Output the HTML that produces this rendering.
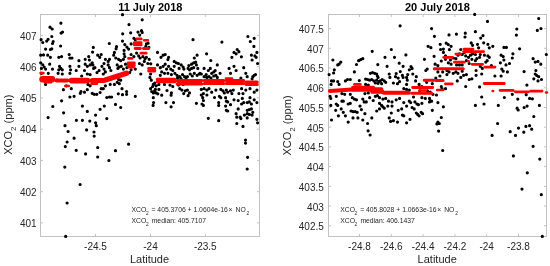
<!DOCTYPE html>
<html><head><meta charset="utf-8"><title>XCO2 vs Latitude</title><style>
html,body{margin:0;padding:0;background:#fff;}
svg{display:block;}
text{font-family:"Liberation Sans",Arial,sans-serif;fill:#262626;}
.tl{font-size:10px;}
.ti{font-size:11px;font-weight:bold;fill:#000;}
.xl{font-size:11px;}
.sub{font-size:8px;}
.an{font-size:6.8px;}
.asub{font-size:4.8px;}
</style></head>
<body><svg width="550" height="266" viewBox="0 0 550 266">
<rect width="550" height="266" fill="#fff"/>
<rect x="40.5" y="14.5" width="219" height="222" fill="none" stroke="#c2c2c2" stroke-width="1"/>
<rect x="328.5" y="14.5" width="218" height="222" fill="none" stroke="#c2c2c2" stroke-width="1"/>
<path d="M60.9 23.2h0M50.0 27.2h0M52.2 29.0h0M61.1 33.1h0M62.5 32.1h0M51.8 36.5h0M41.1 39.7h0M42.8 42.5h0M46.7 41.1h0M48.1 39.3h0M53.2 41.5h0M52.5 43.5h0M60.6 46.0h0M45.6 49.1h0M50.4 49.5h0M51.8 48.8h0M93.3 47.4h0M109.3 43.5h0M122.5 14.7h0M142.2 19.8h0M129.0 24.6h0M122.7 33.8h0M130.7 32.8h0M138.0 32.1h0M141.5 30.7h0M142.2 32.4h0M139.7 35.1h0M122.5 41.1h0M116.5 46.7h0M116.1 48.8h0M124.8 44.6h0M126.9 47.1h0M128.6 49.1h0M131.1 43.9h0M133.9 38.3h0M135.3 39.7h0M146.4 43.9h0M148.1 43.2h0M145.7 46.7h0M148.9 47.4h0M124.1 50.4h0M193.0 39.7h0M221.9 42.1h0M247.9 36.5h0M254.2 38.3h0M250.3 41.5h0M253.9 46.4h0M237.2 49.5h0M40.7 55.2h0M43.5 54.9h0M47.7 55.2h0M50.4 57.3h0M58.8 57.3h0M61.6 56.6h0M69.2 54.5h0M69.9 58.0h0M72.0 58.0h0M78.9 60.7h0M85.2 59.3h0M88.7 56.6h0M89.4 60.0h0M92.6 52.1h0M97.7 55.2h0M99.8 57.3h0M101.2 54.5h0M105.4 59.3h0M108.2 61.4h0M109.5 59.3h0M104.0 63.5h0M40.7 62.8h0M42.8 64.9h0M44.2 67.0h0M41.4 68.4h0M45.6 69.1h0M49.7 64.2h0M52.5 69.1h0M59.5 66.3h0M60.9 68.4h0M58.8 69.8h0M62.3 69.8h0M69.9 66.3h0M70.6 69.8h0M76.2 70.5h0M78.9 66.3h0M85.2 64.2h0M87.3 66.3h0M90.1 64.9h0M92.2 62.8h0M92.9 64.9h0M84.5 70.5h0M93.6 68.4h0M94.9 67.7h0M97.0 72.6h0M99.1 70.5h0M101.9 66.3h0M104.0 69.1h0M105.4 71.9h0M108.2 64.9h0M109.5 67.7h0M110.9 70.5h0M58.1 73.3h0M62.3 74.0h0M69.9 73.3h0M87.3 74.0h0M90.1 74.6h0M103.3 74.0h0M41.4 73.3h0M48.3 73.3h0M81.7 76.0h0M56.7 80.2h0M92.9 80.9h0M97.7 80.2h0M45.6 84.4h0M66.4 85.8h0M88.0 84.4h0M90.1 85.8h0M105.4 85.8h0M110.2 84.4h0M114.4 52.4h0M113.7 55.2h0M115.8 58.0h0M118.6 59.3h0M120.7 60.7h0M124.1 53.8h0M124.8 56.6h0M123.4 59.3h0M131.1 54.5h0M133.9 56.6h0M136.6 53.1h0M138.7 55.9h0M140.1 58.0h0M142.9 56.6h0M145.0 58.7h0M146.4 57.3h0M144.3 61.4h0M149.2 59.3h0M139.4 63.5h0M142.2 64.9h0M147.8 63.5h0M150.8 63.8h0M157.5 52.4h0M161.0 57.3h0M163.1 55.2h0M165.2 54.5h0M168.6 57.3h0M167.9 59.6h0M174.2 61.4h0M176.3 62.8h0M178.4 63.5h0M181.2 64.9h0M183.2 67.0h0M183.9 69.1h0M179.1 68.4h0M174.2 66.3h0M157.5 64.9h0M160.3 67.7h0M163.1 66.3h0M165.2 64.2h0M166.6 69.1h0M168.6 66.3h0M170.7 69.1h0M172.8 70.5h0M174.9 73.3h0M171.4 74.6h0M161.7 71.9h0M160.3 75.3h0M164.5 73.3h0M167.9 73.3h0M177.0 75.3h0M179.8 76.7h0M182.5 74.6h0M184.6 76.7h0M117.2 64.9h0M119.3 67.0h0M117.9 68.4h0M121.3 66.3h0M123.4 69.1h0M125.5 64.2h0M126.9 67.7h0M131.1 69.8h0M132.5 66.3h0M129.7 72.6h0M135.3 69.1h0M140.8 74.0h0M150.6 74.0h0M149.9 77.4h0M151.3 80.2h0M153.3 84.4h0M154.7 83.0h0M156.1 85.8h0M152.6 86.5h0M158.9 84.4h0M164.5 84.4h0M170.0 85.1h0M172.8 86.5h0M178.4 85.1h0M183.2 84.4h0M115.8 77.4h0M118.6 79.5h0M120.7 80.2h0M117.2 82.3h0M119.3 83.7h0M114.4 84.4h0M197.1 55.2h0M206.6 53.8h0M194.3 58.0h0M210.8 60.5h0M217.3 64.9h0M231.9 57.3h0M234.0 52.4h0M236.1 53.8h0M238.9 51.7h0M241.4 56.8h0M251.4 55.2h0M254.9 55.9h0M256.2 57.3h0M252.1 60.0h0M256.9 52.4h0M257.6 63.5h0M188.8 65.6h0M191.6 64.2h0M193.7 62.8h0M195.7 62.1h0M196.4 64.9h0M188.1 68.4h0M189.5 69.8h0M191.6 68.4h0M193.7 67.7h0M187.4 76.7h0M190.2 74.0h0M192.3 76.0h0M194.3 73.3h0M197.8 68.4h0M199.9 73.3h0M201.3 74.0h0M204.1 68.4h0M206.2 74.6h0M208.3 70.5h0M210.3 68.4h0M211.7 73.3h0M213.8 71.9h0M215.2 70.5h0M213.8 76.0h0M215.9 75.3h0M220.1 73.3h0M217.3 77.4h0M206.9 77.4h0M209.0 76.7h0M211.0 78.1h0M204.1 76.7h0M229.1 68.4h0M230.5 73.3h0M234.0 66.3h0M236.1 70.5h0M243.7 67.7h0M245.8 73.3h0M247.2 76.7h0M240.9 78.1h0M252.8 76.7h0M254.2 75.3h0M255.5 74.6h0M252.1 78.8h0M197.1 75.3h0M199.2 74.0h0M63.4 89.7h0M71.3 88.7h0M81.0 91.5h0M80.3 93.3h0M84.5 92.2h0M87.3 89.7h0M92.2 93.3h0M94.2 94.3h0M96.8 94.3h0M100.1 92.5h0M101.2 88.7h0M103.3 88.7h0M106.8 97.5h0M109.5 97.0h0M111.6 97.0h0M69.9 97.0h0M74.1 96.3h0M61.6 100.8h0M52.8 106.5h0M82.4 106.1h0M104.3 106.1h0M100.1 109.3h0M87.3 111.4h0M63.6 112.8h0M95.6 115.1h0M48.1 117.6h0M76.4 120.3h0M82.4 120.3h0M89.8 121.1h0M95.6 122.8h0M106.8 118.6h0M122.0 88.7h0M126.6 91.5h0M126.6 94.3h0M118.3 93.8h0M122.5 94.7h0M135.3 96.3h0M150.6 88.7h0M151.7 91.5h0M153.3 92.9h0M154.7 90.8h0M155.4 89.4h0M156.1 92.9h0M158.9 89.4h0M157.8 93.8h0M161.7 95.2h0M167.0 90.5h0M171.4 92.9h0M171.1 95.2h0M179.8 88.7h0M181.9 90.1h0M183.7 93.6h0M185.3 90.8h0M153.3 97.7h0M153.6 102.6h0M153.1 105.4h0M115.5 104.4h0M120.7 107.5h0M165.9 102.6h0M173.5 102.6h0M171.1 106.8h0M187.4 90.1h0M189.5 92.9h0M188.1 95.7h0M201.3 89.4h0M204.1 88.7h0M206.9 90.1h0M209.0 88.7h0M203.4 93.6h0M201.3 95.0h0M206.9 95.0h0M211.7 92.2h0M215.9 90.1h0M220.8 89.4h0M222.9 90.8h0M224.3 92.9h0M226.3 90.1h0M227.7 92.2h0M230.5 90.8h0M231.9 93.6h0M233.3 90.1h0M238.9 93.6h0M241.6 88.7h0M243.0 93.6h0M245.8 90.1h0M250.0 88.7h0M254.2 92.2h0M256.9 90.1h0M202.7 97.7h0M203.4 100.5h0M214.5 97.5h0M219.4 96.3h0M220.8 97.7h0M225.6 97.7h0M226.3 101.2h0M227.7 101.9h0M234.0 99.8h0M238.2 100.5h0M242.3 98.4h0M250.0 97.7h0M254.2 99.8h0M196.4 103.3h0M202.0 104.0h0M203.4 105.4h0M218.7 102.6h0M218.7 105.4h0M225.6 106.1h0M230.5 104.7h0M241.6 104.0h0M243.7 102.6h0M247.2 102.6h0M249.3 101.9h0M251.4 104.0h0M256.9 102.6h0M238.2 108.9h0M226.3 110.3h0M227.7 111.0h0M247.2 110.3h0M249.3 109.6h0M251.4 108.9h0M252.8 112.3h0M236.1 113.7h0M247.2 113.7h0M249.3 114.4h0M244.4 115.1h0M236.8 117.2h0M240.2 117.2h0M240.9 118.6h0M247.2 117.9h0M252.1 115.1h0M208.3 118.3h0M218.7 120.7h0M236.8 123.5h0M256.9 119.3h0M257.6 122.8h0M65.0 125.7h0M96.3 125.7h0M68.1 131.5h0M86.6 129.9h0M94.0 132.0h0M94.2 136.1h0M74.1 138.2h0M67.1 142.0h0M65.3 146.6h0M97.7 147.5h0M76.2 150.3h0M85.6 153.9h0M97.7 157.0h0M108.9 160.5h0M128.6 144.2h0M115.5 150.7h0M243.0 126.4h0M245.5 140.0h0M245.5 143.1h0M247.6 157.3h0M64.8 167.1h0M80.1 184.5h0M67.1 203.0h0M65.7 236.4h0M247.2 169.0h0M400.1 25.8h0M391.3 49.5h0M431.6 28.6h0M434.4 36.3h0M449.0 34.9h0M456.4 34.2h0M465.3 33.2h0M465.0 37.0h0M428.1 46.3h0M430.9 47.7h0M440.2 44.3h0M446.2 43.2h0M448.3 44.6h0M451.1 46.3h0M471.2 42.9h0M472.6 45.3h0M440.6 49.5h0M443.4 49.1h0M449.4 49.6h0M460.8 49.5h0M474.7 14.4h0M487.5 21.4h0M475.4 31.7h0M483.0 35.6h0M480.7 38.1h0M483.7 42.8h0M477.5 44.3h0M478.6 47.8h0M487.9 44.3h0M489.3 47.8h0M492.8 46.3h0M503.9 47.4h0M506.4 47.4h0M516.8 29.0h0M516.4 35.1h0M519.6 48.8h0M538.7 18.5h0M537.3 30.4h0M541.0 28.6h0M372.2 51.3h0M332.9 60.0h0M337.7 64.9h0M339.1 64.2h0M340.8 62.1h0M334.3 69.8h0M333.6 73.0h0M329.1 74.6h0M358.6 60.7h0M360.7 59.6h0M362.8 58.7h0M356.5 64.5h0M354.4 71.9h0M377.8 64.6h0M385.0 57.3h0M394.5 57.3h0M387.1 66.3h0M399.2 63.2h0M400.3 71.6h0M370.4 73.3h0M372.5 72.6h0M374.6 73.3h0M376.7 74.0h0M377.4 76.0h0M378.1 77.4h0M389.2 74.0h0M389.9 77.4h0M396.2 73.5h0M395.5 76.7h0M398.2 78.1h0M331.5 80.9h0M333.6 80.9h0M331.1 84.4h0M337.7 81.6h0M339.1 84.4h0M345.4 80.9h0M347.5 79.5h0M350.3 79.5h0M359.3 80.6h0M365.6 79.1h0M367.6 79.5h0M369.7 80.2h0M371.8 79.5h0M373.9 80.9h0M376.7 80.2h0M378.8 81.6h0M380.2 80.9h0M382.2 79.5h0M384.3 80.9h0M385.7 82.3h0M375.3 83.0h0M378.1 83.3h0M381.6 83.7h0M365.6 84.4h0M368.3 85.1h0M393.4 83.0h0M397.5 83.7h0M399.6 81.6h0M405.9 54.9h0M424.4 59.3h0M434.1 56.3h0M443.4 52.4h0M445.5 55.9h0M403.1 66.3h0M409.3 69.8h0M411.0 66.6h0M412.1 68.4h0M425.8 70.5h0M427.2 69.1h0M435.1 64.2h0M437.9 65.6h0M441.3 61.0h0M445.5 59.3h0M448.3 62.8h0M450.4 60.0h0M451.1 64.2h0M453.2 58.0h0M455.9 58.7h0M458.0 55.2h0M459.4 53.8h0M462.2 54.5h0M464.3 52.4h0M465.7 55.9h0M468.5 57.3h0M470.5 55.2h0M472.6 53.8h0M471.9 59.3h0M469.2 63.5h0M466.4 60.7h0M462.2 64.9h0M459.4 64.9h0M456.6 64.9h0M437.9 71.9h0M442.7 71.9h0M446.9 70.5h0M449.0 71.9h0M453.2 73.3h0M455.9 71.9h0M458.0 73.3h0M462.2 71.2h0M463.6 75.3h0M466.4 74.6h0M460.8 77.4h0M446.9 74.6h0M439.9 76.0h0M435.8 78.1h0M426.7 82.3h0M432.3 83.7h0M419.1 84.4h0M415.6 80.9h0M416.3 76.7h0M412.8 74.0h0M407.7 74.6h0M406.6 77.4h0M402.4 75.3h0M403.1 77.4h0M407.3 80.2h0M406.6 84.4h0M421.9 86.5h0M457.3 80.9h0M469.2 79.5h0M471.9 78.8h0M465.7 86.5h0M441.3 86.5h0M475.4 54.5h0M476.8 58.7h0M479.6 57.3h0M480.3 54.5h0M484.4 55.2h0M487.9 55.9h0M489.3 57.3h0M487.2 60.7h0M485.8 62.1h0M475.4 60.7h0M476.1 70.5h0M476.1 75.3h0M481.7 74.0h0M482.3 68.4h0M480.3 66.3h0M491.4 65.6h0M494.9 76.0h0M500.4 62.8h0M501.1 76.0h0M501.1 55.2h0M503.2 56.6h0M503.9 60.0h0M506.0 64.9h0M509.5 63.5h0M501.8 69.1h0M503.2 71.2h0M507.4 71.9h0M512.9 53.8h0M512.3 58.0h0M524.1 71.6h0M533.1 58.7h0M535.2 62.1h0M538.0 61.4h0M540.8 64.2h0M535.9 70.5h0M535.2 74.0h0M536.6 75.3h0M538.7 76.7h0M533.8 78.8h0M538.0 80.9h0M541.5 79.5h0M546.3 54.5h0M526.9 85.1h0M479.6 86.9h0M330.1 96.3h0M330.8 98.4h0M336.3 96.3h0M341.9 93.6h0M344.7 94.3h0M350.3 94.3h0M352.3 97.7h0M354.4 99.1h0M356.5 99.8h0M364.9 93.6h0M368.3 92.9h0M369.7 97.7h0M373.2 100.5h0M375.3 96.3h0M377.4 95.7h0M379.5 97.7h0M382.9 99.1h0M385.7 98.4h0M388.5 101.2h0M392.0 101.9h0M396.2 99.8h0M399.6 98.4h0M362.8 99.1h0M364.2 101.9h0M366.3 101.9h0M330.8 105.4h0M336.3 104.0h0M337.7 105.4h0M341.9 101.2h0M343.3 101.2h0M348.2 104.0h0M350.3 103.3h0M360.0 106.1h0M361.4 109.6h0M364.9 113.7h0M379.5 103.3h0M381.6 105.4h0M382.9 106.8h0M384.3 108.2h0M387.8 106.1h0M392.0 106.1h0M398.2 110.3h0M376.7 111.0h0M379.5 108.9h0M335.7 110.3h0M341.2 108.9h0M343.3 112.3h0M345.4 115.8h0M351.0 111.0h0M353.0 111.6h0M355.1 111.6h0M357.2 112.3h0M338.4 115.8h0M353.0 117.9h0M357.9 117.9h0M362.8 120.0h0M367.6 123.5h0M371.8 117.9h0M391.3 113.0h0M389.2 117.9h0M390.6 121.4h0M393.4 120.7h0M397.5 122.1h0M331.5 120.0h0M348.2 122.1h0M403.8 88.7h0M406.6 89.4h0M409.3 90.1h0M419.8 90.8h0M427.4 90.8h0M430.2 92.2h0M433.0 94.3h0M436.5 95.0h0M442.0 88.7h0M445.5 88.7h0M413.5 97.0h0M421.9 97.7h0M425.3 98.4h0M429.5 98.4h0M430.2 101.2h0M429.5 101.9h0M431.6 101.2h0M403.8 102.6h0M409.3 101.2h0M410.7 102.6h0M414.9 101.9h0M417.0 104.0h0M418.4 104.7h0M421.9 103.3h0M437.9 102.6h0M443.4 106.8h0M406.6 106.1h0M412.1 107.5h0M414.2 108.9h0M416.3 113.0h0M417.7 114.4h0M419.1 115.8h0M421.2 112.3h0M422.6 113.7h0M432.3 110.3h0M401.7 108.9h0M402.4 115.1h0M403.8 115.8h0M410.0 119.3h0M406.6 122.8h0M441.3 117.5h0M437.9 122.1h0M439.3 123.5h0M436.9 123.9h0M481.7 97.0h0M475.4 105.4h0M484.0 104.0h0M498.3 105.4h0M504.3 97.5h0M512.3 94.3h0M517.8 99.1h0M517.1 108.2h0M518.2 110.0h0M524.1 107.5h0M527.1 106.1h0M526.2 94.7h0M529.6 98.4h0M532.4 98.8h0M539.4 105.4h0M533.8 116.5h0M497.6 123.5h0M368.1 130.8h0M370.1 135.0h0M438.6 131.1h0M442.7 150.5h0M492.1 135.4h0M510.2 131.7h0M515.5 135.4h0M518.5 128.1h0M523.8 132.2h0M525.9 126.4h0M529.6 125.7h0M531.7 129.2h0M533.1 146.3h0M513.4 155.9h0M539.8 159.1h0M527.3 172.8h0M522.0 189.1h0M541.3 194.7h0M542.3 236.4h0M177.5 78.0h0M181.0 78.5h0M186.0 79.2h0" stroke="#000" stroke-width="3.2" stroke-linecap="round"/>
<path d="M40.6 73.1H43.4M128.4 58.4H132.2M128.5 67.3H134.0M136.7 38.9H141.3M144.1 40.3H147.9M437.2 90.0H443.3" stroke="#f00" stroke-width="2.6" stroke-linecap="round"/>
<path d="M42.5 79.2H52.1" stroke="#f00" stroke-width="6.4" stroke-linecap="round"/>
<path d="M44.9 82.3H51.1M65.2 86.0H68.9" stroke="#f00" stroke-width="2.4" stroke-linecap="round"/>
<path d="M56.7 80.6H67.3M330.0 90.9L352.0 89.5M383.7 92.8H408.8" stroke="#f00" stroke-width="4" stroke-linecap="round"/>
<path d="M71.5 80.6H87.5" stroke="#f00" stroke-width="5.6" stroke-linecap="round"/>
<path d="M92.2 80.6H103.8" stroke="#f00" stroke-width="5" stroke-linecap="round"/>
<path d="M91.8 83.5H96.7M157.3 79.3H174.7M157.3 81.7H174.7M204.3 80.5H223.7M204.3 83.5H223.7M226.3 80.5H243.7M226.3 83.5H243.7M246.3 82.0H257.2M352.7 87.3H373.4M352.7 90.2H373.4M371.9 88.8H381.7M371.9 92.2H381.7" stroke="#f00" stroke-width="3.2" stroke-linecap="round"/>
<path d="M106.0 79.8L126.5 73.2" stroke="#f00" stroke-width="5.4" stroke-linecap="round"/>
<path d="M128.1 63.0H134.4M128.1 65.3H134.4M134.3 42.7H141.2M134.3 44.9H141.2M135.1 48.5H140.4M143.4 48.5H148.7M140.9 53.2H146.2M148.6 68.5H154.9M148.6 71.0H154.9M354.5 84.4H360.4M412.6 87.5H432.7M445.4 83.8H452.3M443.7 57.3H452.2M455.9 54.1H460.8M464.0 49.1H473.0M463.5 51.6H483.6M454.4 62.2H464.4M472.1 64.3H482.6M484.8 67.1H495.0M484.2 83.5H504.3M500.1 90.4H513.1M515.3 91.8H528.3M530.5 91.1H542.1" stroke="#f00" stroke-width="2.8" stroke-linecap="round"/>
<path d="M177.3 80.6H201.7M177.3 83.9H201.7" stroke="#f00" stroke-width="3.3" stroke-linecap="round"/>
<path d="M225.9 78.6H232.1M419.6 90.5H425.8M468.2 61.3H468.8M492.6 91.1H493.1M546.0 92.5H547.0" stroke="#f00" stroke-width="2.5" stroke-linecap="round"/>
<path d="M246.2 84.6H257.3M411.7 93.3H431.8M424.2 80.2H433.8M436.2 80.5H443.1M434.3 68.7H463.3" stroke="#f00" stroke-width="3.0" stroke-linecap="round"/>
<path d="M381.9 91.5H382.1" stroke="#f00" stroke-width="4.5" stroke-linecap="round"/>
<text x="36.7" y="39.7" class="tl" text-anchor="end">407</text>
<path d="M41 35.4h2M259 35.4h-2" stroke="#c2c2c2" stroke-width="1"/>
<text x="36.7" y="70.9" class="tl" text-anchor="end">406</text>
<path d="M41 66.6h2M259 66.6h-2" stroke="#c2c2c2" stroke-width="1"/>
<text x="36.7" y="102.2" class="tl" text-anchor="end">405</text>
<path d="M41 97.9h2M259 97.9h-2" stroke="#c2c2c2" stroke-width="1"/>
<text x="36.7" y="133.4" class="tl" text-anchor="end">404</text>
<path d="M41 129.2h2M259 129.2h-2" stroke="#c2c2c2" stroke-width="1"/>
<text x="36.7" y="164.7" class="tl" text-anchor="end">403</text>
<path d="M41 160.4h2M259 160.4h-2" stroke="#c2c2c2" stroke-width="1"/>
<text x="36.7" y="195.9" class="tl" text-anchor="end">402</text>
<path d="M41 191.7h2M259 191.7h-2" stroke="#c2c2c2" stroke-width="1"/>
<text x="36.7" y="227.2" class="tl" text-anchor="end">401</text>
<path d="M41 222.9h2M259 222.9h-2" stroke="#c2c2c2" stroke-width="1"/>
<text x="95.5" y="250" class="tl" text-anchor="middle">-24.5</text>
<path d="M95.5 236v-2M95.5 15v2" stroke="#c2c2c2" stroke-width="1"/>
<text x="150.5" y="250" class="tl" text-anchor="middle">-24</text>
<path d="M150.5 236v-2M150.5 15v2" stroke="#c2c2c2" stroke-width="1"/>
<text x="205.3" y="250" class="tl" text-anchor="middle">-23.5</text>
<path d="M205.3 236v-2M205.3 15v2" stroke="#c2c2c2" stroke-width="1"/>
<text x="323.8" y="33.0" class="tl" text-anchor="end">407.5</text>
<path d="M329 28.6h2M546 28.6h-2" stroke="#c2c2c2" stroke-width="1"/>
<text x="323.8" y="52.7" class="tl" text-anchor="end">407</text>
<path d="M329 48.3h2M546 48.3h-2" stroke="#c2c2c2" stroke-width="1"/>
<text x="323.8" y="72.4" class="tl" text-anchor="end">406.5</text>
<path d="M329 68.0h2M546 68.0h-2" stroke="#c2c2c2" stroke-width="1"/>
<text x="323.8" y="92.2" class="tl" text-anchor="end">406</text>
<path d="M329 87.8h2M546 87.8h-2" stroke="#c2c2c2" stroke-width="1"/>
<text x="323.8" y="111.9" class="tl" text-anchor="end">405.5</text>
<path d="M329 107.5h2M546 107.5h-2" stroke="#c2c2c2" stroke-width="1"/>
<text x="323.8" y="131.6" class="tl" text-anchor="end">405</text>
<path d="M329 127.2h2M546 127.2h-2" stroke="#c2c2c2" stroke-width="1"/>
<text x="323.8" y="151.3" class="tl" text-anchor="end">404.5</text>
<path d="M329 146.9h2M546 146.9h-2" stroke="#c2c2c2" stroke-width="1"/>
<text x="323.8" y="171.0" class="tl" text-anchor="end">404</text>
<path d="M329 166.6h2M546 166.6h-2" stroke="#c2c2c2" stroke-width="1"/>
<text x="323.8" y="190.8" class="tl" text-anchor="end">403.5</text>
<path d="M329 186.4h2M546 186.4h-2" stroke="#c2c2c2" stroke-width="1"/>
<text x="323.8" y="210.5" class="tl" text-anchor="end">403</text>
<path d="M329 206.1h2M546 206.1h-2" stroke="#c2c2c2" stroke-width="1"/>
<text x="323.8" y="230.2" class="tl" text-anchor="end">402.5</text>
<path d="M329 225.8h2M546 225.8h-2" stroke="#c2c2c2" stroke-width="1"/>
<text x="359.5" y="250" class="tl" text-anchor="middle">-24.8</text>
<path d="M359.5 236v-2M359.5 15v2" stroke="#c2c2c2" stroke-width="1"/>
<text x="391.3" y="250" class="tl" text-anchor="middle">-24.6</text>
<path d="M391.3 236v-2M391.3 15v2" stroke="#c2c2c2" stroke-width="1"/>
<text x="423.1" y="250" class="tl" text-anchor="middle">-24.4</text>
<path d="M423.1 236v-2M423.1 15v2" stroke="#c2c2c2" stroke-width="1"/>
<text x="454.9" y="250" class="tl" text-anchor="middle">-24.2</text>
<path d="M454.9 236v-2M454.9 15v2" stroke="#c2c2c2" stroke-width="1"/>
<text x="486.7" y="250" class="tl" text-anchor="middle">-24</text>
<path d="M486.7 236v-2M486.7 15v2" stroke="#c2c2c2" stroke-width="1"/>
<text x="518.5" y="250" class="tl" text-anchor="middle">-23.8</text>
<path d="M518.5 236v-2M518.5 15v2" stroke="#c2c2c2" stroke-width="1"/>
<text x="150.3" y="11" class="ti" text-anchor="middle">11 July 2018</text>
<text x="437.4" y="11" class="ti" text-anchor="middle">20 July 2018</text>
<text x="149.5" y="263" class="xl" text-anchor="middle">Latitude</text>
<text x="437.2" y="263" class="xl" text-anchor="middle">Latitude</text>
<text transform="translate(11.8 124.7) rotate(-90)" class="xl" text-anchor="middle">XCO<tspan class="sub" dy="4.3">2</tspan><tspan dy="-4.3"> (ppm)</tspan></text>
<text transform="translate(290.6 125.5) rotate(-90)" class="xl" text-anchor="middle">XCO<tspan class="sub" dy="4.3">2</tspan><tspan dy="-4.3"> (ppm)</tspan></text>
<text x="131.5" y="212.0" class="an">XCO</text>
<text x="145.9" y="214.8" class="asub">2</text>
<text x="151.5" y="212.0" class="an">= 405.3706 + 1.0604e-16</text>
<text x="228.5" y="212.0" class="an">×</text>
<text x="235.5" y="212.0" class="an">NO</text>
<text x="246.5" y="214.8" class="asub">2</text>
<text x="131.5" y="222.9" class="an">XCO</text>
<text x="145.9" y="225.7" class="asub">2</text>
<text x="151.7" y="222.9" class="an">median: 405.7107</text>
<text x="340.2" y="212.0" class="an">XCO</text>
<text x="354.6" y="214.8" class="asub">2</text>
<text x="360.2" y="212.0" class="an">= 405.8028 + 1.0663e-16</text>
<text x="437.2" y="212.0" class="an">×</text>
<text x="444.2" y="212.0" class="an">NO</text>
<text x="455.2" y="214.8" class="asub">2</text>
<text x="340.2" y="222.9" class="an">XCO</text>
<text x="354.6" y="225.7" class="asub">2</text>
<text x="360.4" y="222.9" class="an">median: 406.1437</text>
</svg></body></html>
